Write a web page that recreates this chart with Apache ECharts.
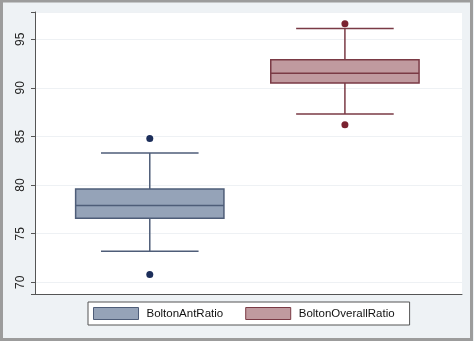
<!DOCTYPE html>
<html>
<head>
<meta charset="utf-8">
<script src="https://cdn.jsdelivr.net/npm/echarts@6/dist/echarts.min.js"></script>
<style>
  html, body { margin: 0; padding: 0; background: #eef2f5; }
  #chart { width: 474px; height: 341px; }
</style>
</head>
<body>
<div id="chart"></div>
<script>
// series names
var names = ['BoltonAntRatio', 'BoltonOverallRatio'];
// box stats: [position, lower whisker, Q1, median, Q3, upper whisker]
var antBox = [1, 73.2, 76.6, 77.9, 79.6, 83.3];
var overallBox = [2, 87.3, 90.5, 91.5, 92.9, 96.1];
// outliers
var antOutliers = [[1, 84.8], [1, 70.8]];
var overallOutliers = [[2, 96.6], [2, 86.2]];
// y tick labels
var yTicks = [70, 75, 80, 85, 90, 95];

var fills = ['#95a3b8', '#c09a9f'];
var strokes = ['#4e5d78', '#7a3a45'];
var dots = ['#1c2e5a', '#7a2230'];

var boxHalf = 0.38;   // half box width in x units
var capHalf = 0.25;   // half whisker cap width

function renderBox(params, api) {
  var x = api.value(0);
  var lw = api.value(1), q1 = api.value(2), md = api.value(3), q3 = api.value(4), uw = api.value(5);
  var tl = api.coord([x - boxHalf, q3]);
  var br = api.coord([x + boxHalf, q1]);
  var c = params.seriesIndex;
  var st = { stroke: strokes[c], lineWidth: 1.5 };
  function line(x1, y1, x2, y2) {
    var a = api.coord([x1, y1]), b = api.coord([x2, y2]);
    return { type: 'line', shape: { x1: a[0], y1: a[1], x2: b[0], y2: b[1] }, style: st };
  }
  return {
    type: 'group',
    children: [
      line(x, q3, x, uw),
      line(x, q1, x, lw),
      line(x - capHalf, uw, x + capHalf, uw),
      line(x - capHalf, lw, x + capHalf, lw),
      { type: 'rect', shape: { x: tl[0], y: tl[1], width: br[0] - tl[0], height: br[1] - tl[1] },
        style: { fill: fills[c], stroke: strokes[c], lineWidth: 1.5 } },
      line(x - boxHalf, md, x + boxHalf, md)
    ]
  };
}

var chart = echarts.init(document.getElementById('chart'));
chart.setOption({
  backgroundColor: '#eef2f5',
  animation: false,
  graphic: [{
    type: 'rect', silent: true, z: 100,
    shape: { x: 1.5, y: 1, width: 470, height: 338.5 },
    style: { fill: 'none', stroke: '#9c9c9c', lineWidth: 3 }
  }],
  grid: {
    left: 35, right: 12, top: 12, bottom: 47,
    show: true, backgroundColor: '#ffffff', borderWidth: 0
  },
  legend: {
    data: names.map(function (n, i) {
      return { name: n, itemStyle: { color: fills[i], borderColor: strokes[i], borderWidth: 1 } };
    }),
    left: 88, top: 302,
    icon: 'rect', itemWidth: 45, itemHeight: 12, itemGap: 22,
    padding: [5, 15, 5, 5],
    backgroundColor: '#ffffff', borderColor: '#555', borderWidth: 1,
    textStyle: { fontFamily: 'Liberation Sans', fontSize: 11.5, color: '#111', padding: [0, 0, 0, 3] }
  },
  xAxis: {
    type: 'value', min: 0.4118, max: 2.6,
    axisLine: { show: true, onZero: false, lineStyle: { color: '#555', width: 1 } },
    axisTick: { show: false }, axisLabel: { show: false }, splitLine: { show: false }
  },
  yAxis: {
    type: 'value', min: 68.8, max: 97.8,
    axisLine: { show: true, lineStyle: { color: '#555', width: 1 } },
    axisTick: { show: true, inside: false, length: 4, lineStyle: { color: '#555', width: 1 } },
    axisLabel: {
      customValues: yTicks, rotate: 90, margin: 8,
      fontFamily: 'Liberation Sans', fontSize: 12, color: '#222'
    },
    splitLine: { show: true, lineStyle: { color: '#eef1f4', width: 1 } }
  },
  series: [
    { name: names[0], type: 'custom', renderItem: renderBox, data: [antBox],
      itemStyle: { color: fills[0] }, encode: { x: 0, y: [1, 2, 3, 4, 5] } },
    { name: names[1], type: 'custom', renderItem: renderBox, data: [overallBox],
      itemStyle: { color: fills[1] }, encode: { x: 0, y: [1, 2, 3, 4, 5] } },
    { name: names[0], type: 'scatter', data: antOutliers, symbolSize: 7,
      itemStyle: { color: dots[0], opacity: 1 } },
    { name: names[1], type: 'scatter', data: overallOutliers, symbolSize: 7,
      itemStyle: { color: dots[1], opacity: 1 } }
  ]
});
</script>
</body>
</html>
